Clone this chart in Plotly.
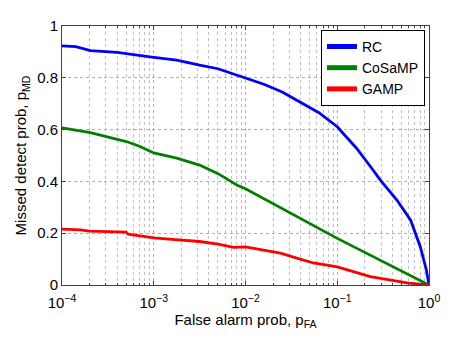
import plotly.graph_objects as go

rc_logx = [-4, -3.85, -3.69, -3.4, -3.0, -2.75, -2.5, -2.3, -2.09, -2.0, -1.8, -1.6, -1.44, -1.2, -1.0, -0.79, -0.61, -0.53, -0.35, -0.2, -0.095, -0.03, 0]
rc_y = [0.923, 0.92, 0.905, 0.898, 0.879, 0.868, 0.849, 0.835, 0.81, 0.80, 0.775, 0.745, 0.714, 0.665, 0.611, 0.528, 0.444, 0.405, 0.328, 0.25, 0.148, 0.06, 0.0]

co_logx = [-4, -3.69, -3.29, -3.15, -3.0, -2.75, -2.5, -2.3, -2.09, -2.0, -1.0, 0]
co_y = [0.607, 0.588, 0.553, 0.535, 0.51, 0.49, 0.463, 0.43, 0.385, 0.372, 0.18, 0.0]

ga_logx = [-4, -3.8, -3.7, -3.45, -3.3, -3.28, -3.0, -2.8, -2.5, -2.3, -2.13, -2.0, -1.8, -1.62, -1.45, -1.26, -1.0, -0.8, -0.64, -0.4, -0.24, -0.1, 0]
ga_y = [0.216, 0.213, 0.208, 0.206, 0.204, 0.196, 0.182, 0.176, 0.168, 0.158, 0.145, 0.147, 0.135, 0.123, 0.105, 0.085, 0.07, 0.05, 0.032, 0.018, 0.008, 0.003, 0.0]

series = [("RC", rc_logx, rc_y, "#0000ff"),
          ("CoSaMP", co_logx, co_y, "#007f00"),
          ("GAMP", ga_logx, ga_y, "#ff0000")]

x_tickvals = [1e-4, 1e-3, 1e-2, 1e-1, 1]
x_ticktext = ["10<sup>−4</sup>", "10<sup>−3</sup>", "10<sup>−2</sup>", "10<sup>−1</sup>", "10<sup>0</sup>"]
y_tickvals = [0, 0.2, 0.4, 0.6, 0.8, 1]
y_ticktext = ["0", "0.2", "0.4", "0.6", "0.8", "1"]

minor_vals = [m * 10.0 ** d for d in range(-4, 0) for m in range(2, 10)]

fig = go.Figure()
for name, lx, y, c in series:
    fig.add_trace(go.Scatter(x=[10 ** v for v in lx], y=y, mode="lines", name=name,
                             line=dict(color=c, width=2.8)))

font = "Liberation Sans, Arial, sans-serif"
fig.update_layout(
    width=474, height=355,
    margin=dict(l=62, r=45, t=26, b=70),
    paper_bgcolor="white", plot_bgcolor="white",
    font=dict(family=font, size=14, color="black"),
    showlegend=True,
    legend=dict(x=0.989, y=0.985, xanchor="right", yanchor="top",
                bordercolor="black", borderwidth=1, bgcolor="white",
                font=dict(size=14), tracegroupgap=0, itemwidth=30,
                itemsizing="constant"),
    xaxis=dict(type="log", range=[-4, 0], tickvals=x_tickvals, ticktext=x_ticktext,
               ticks="inside", ticklen=4, showline=True, linecolor="#404040", linewidth=1,
               mirror="ticks", showgrid=True, gridcolor="#b0b0b0", griddash="dot", gridwidth=1,
               zeroline=False, ticklabelstandoff=4,
               minor=dict(tickvals=minor_vals, ticks="inside", ticklen=2, showgrid=True,
                          gridcolor="#c0c0c0", griddash="dot", gridwidth=1),
               title=dict(text="False alarm prob, p<sub>FA</sub>", standoff=4, font=dict(size=15)),
               tickfont=dict(size=15)),
    yaxis=dict(range=[0, 1], tickvals=y_tickvals, ticktext=y_ticktext,
               ticks="inside", ticklen=4, showline=True, linecolor="#404040", linewidth=1,
               mirror="ticks", showgrid=True, gridcolor="#b0b0b0", griddash="dot", gridwidth=1,
               zeroline=False,
               title=dict(text="Missed detect prob, p<sub>MD</sub>", standoff=6, font=dict(size=15)),
               tickfont=dict(size=15)),
)

fig.write_html("out.html")
